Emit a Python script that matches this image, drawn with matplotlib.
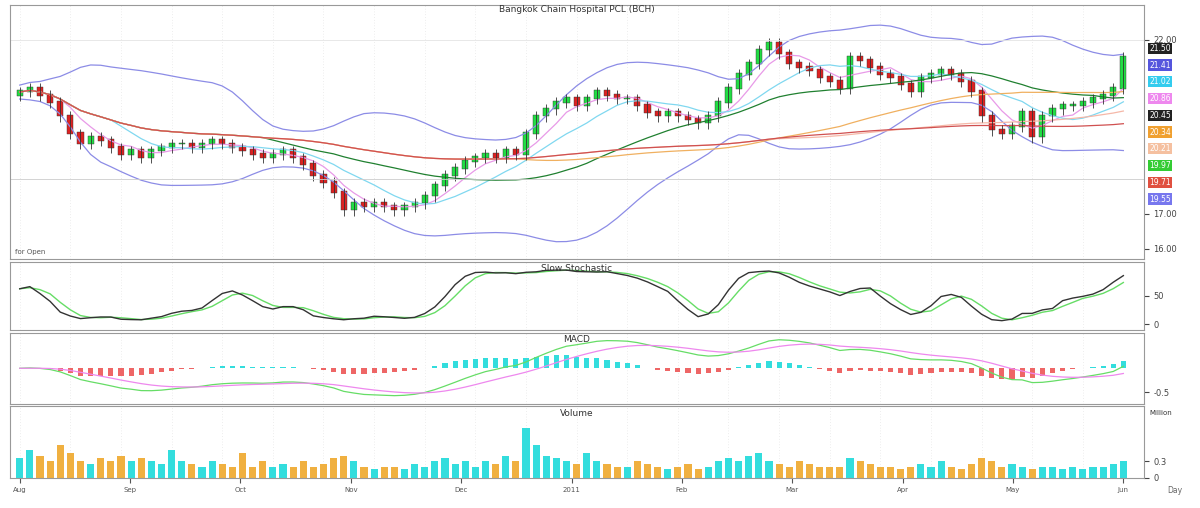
import matplotlib
matplotlib.use("Agg")
import matplotlib.pyplot as plt
import numpy as np

title = "Bangkok Chain Hospital PCL (BCH)"
closes = [20.5,20.6,20.4,20.2,19.8,19.3,19.0,19.2,19.1,18.9,
18.7,18.8,18.6,18.8,18.9,19.0,19.0,18.9,19.0,19.1,
19.0,18.9,18.8,18.7,18.6,18.7,18.8,18.6,18.4,18.1,
17.9,17.6,17.1,17.3,17.2,17.3,17.2,17.1,17.2,17.3,
17.5,17.8,18.1,18.3,18.5,18.6,18.7,18.6,18.8,18.7,
19.3,19.8,20.0,20.2,20.3,20.1,20.3,20.5,20.4,20.3,
20.3,20.1,19.9,19.8,19.9,19.8,19.7,19.6,19.8,20.2,
20.6,21.0,21.3,21.7,21.9,21.6,21.3,21.2,21.1,20.9,
20.8,20.6,21.5,21.4,21.2,21.0,20.9,20.7,20.5,20.9,
21.0,21.1,21.0,20.8,20.5,19.8,19.4,19.3,19.5,19.9,
19.2,19.8,20.0,20.1,20.1,20.2,20.3,20.4,20.6,21.5]
volumes = [0.35,0.5,0.4,0.3,0.6,0.45,0.3,0.25,0.35,0.3,
0.4,0.3,0.35,0.3,0.25,0.5,0.3,0.25,0.2,0.3,
0.25,0.2,0.45,0.2,0.3,0.2,0.25,0.2,0.3,0.2,
0.25,0.35,0.4,0.3,0.2,0.15,0.2,0.2,0.15,0.25,
0.2,0.3,0.35,0.25,0.3,0.2,0.3,0.25,0.4,0.3,
0.9,0.6,0.4,0.35,0.3,0.25,0.45,0.3,0.25,0.2,
0.2,0.3,0.25,0.2,0.15,0.2,0.25,0.15,0.2,0.3,
0.35,0.3,0.4,0.45,0.3,0.25,0.2,0.3,0.25,0.2,
0.2,0.2,0.35,0.3,0.25,0.2,0.2,0.15,0.2,0.25,
0.2,0.3,0.2,0.15,0.25,0.35,0.3,0.2,0.25,0.2,
0.15,0.2,0.2,0.15,0.2,0.15,0.2,0.2,0.25,0.3]
month_labels = ["Aug","Sep","Oct","Nov","Dec","2011","Feb","Mar","Apr","May","Jun"]
legend_vals = ["21.50","21.41","21.02","20.86","20.45","20.34","20.21","19.97","19.71","19.55"]

c = np.array(closes); n = len(c); x = np.arange(n)
o = np.r_[c[0]-0.1, c[:-1]]
hi = np.maximum(o, c) + 0.15; lo = np.minimum(o, c) - 0.15

def sma(a, w):
    out = np.full(len(a), np.nan)
    for i in range(len(a)):
        s = a[max(0, i-w+1):i+1]; out[i] = s.mean()
    return out
def ema(a, w):
    k = 2/(w+1); out = np.zeros(len(a)); out[0] = a[0]
    for i in range(1, len(a)): out[i] = a[i]*k + out[i-1]*(1-k)
    return out

fig = plt.figure(figsize=(12, 5.08), dpi=100)
axm = fig.add_axes([0.008, 0.49, 0.945, 0.50])
axs = fig.add_axes([0.008, 0.35, 0.945, 0.135])
axd = fig.add_axes([0.008, 0.205, 0.945, 0.14])
axv = fig.add_axes([0.008, 0.06, 0.945, 0.14])
for a in (axm, axs, axd, axv):
    a.set_xlim(-1, n+1)
    a.tick_params(axis="y", right=True, left=False, labelright=True, labelleft=False, labelsize=6, colors="#444")
    a.tick_params(axis="x", bottom=False, labelbottom=False)
    for xi in range(0, n, 5):
        a.axvline(xi, color="#dddddd", lw=0.5, ls=(0, (1, 3)), zorder=0)
    for s in a.spines.values(): s.set_color("#999")

bb_m = sma(c, 20); sd = np.array([c[max(0,i-19):i+1].std() for i in range(n)])
axm.plot(x, sma(bb_m+2*sd+0.2, 3), color="#8c8ce6", lw=0.9)
axm.plot(x, sma(bb_m-2*sd-0.2, 3), color="#8c8ce6", lw=0.9)
for w, col in [(5,"#e89ae8"),(10,"#80d8f0"),(25,"#208030"),(50,"#f0b060"),(75,"#f5b8a8"),(100,"#d05050")]:
    axm.plot(x, sma(c, w), color=col, lw=0.9)
cols = np.where(c >= o, "#22dd44", "#dd2222")
axm.vlines(x, lo, hi, color="#333", lw=0.6)
axm.bar(x, np.abs(c-o)+0.05, bottom=np.minimum(o,c), color=cols, width=0.6, edgecolor="#333", lw=0.3)
axm.set_ylim(15.7, 23.0)
axm.set_yticks([16, 17, 22])
axm.set_yticklabels(["16.00", "17.00", "22.00"])
axm.axhline(22.0, color="#e4e4e4", lw=0.6); axm.axhline(18.0, color="#ccc", lw=0.6)
axm.text(0.5, 1.0, title, transform=axm.transAxes, ha="center", va="top", fontsize=6.5, color="#333")
axm.text(0.005, 0.02, "for Open", transform=axm.transAxes, fontsize=5, color="#555")
box_cols = ["#222222","#5555dd","#33ccee","#ee88ee","#222222","#f0a030","#f5c0a0","#33cc33","#e05040","#7777ee"]
for i, (v, bc) in enumerate(zip(legend_vals, box_cols)):
    yy = 0.83 - i*0.066
    axm.text(1.005, yy, v, transform=axm.transAxes, fontsize=5.5, color="white",
             bbox=dict(boxstyle="square,pad=0.15", fc=bc, ec="none"), va="center")

lo14 = np.array([lo[max(0,i-13):i+1].min() for i in range(n)])
hi14 = np.array([hi[max(0,i-13):i+1].max() for i in range(n)])
k = sma(100*(c-lo14)/(hi14-lo14), 3); d = sma(k, 3)
axs.plot(x, d, color="#66dd66", lw=1); axs.plot(x, k, color="#333", lw=1)
axs.set_ylim(-10, 110); axs.set_yticks([0, 50]); axs.set_yticklabels(["0", "50"])
axs.text(0.5, 0.97, "Slow Stochastic", transform=axs.transAxes, ha="center", va="top", fontsize=6.5, color="#333")

macd = ema(c, 12) - ema(c, 26); sig = ema(macd, 9); hist = macd - sig
axd.bar(x, hist, color=np.where(hist >= 0, "#33dddd", "#ee6666"), width=0.5)
axd.plot(x, macd, color="#66dd66", lw=0.9); axd.plot(x, sig, color="#ee88ee", lw=0.9)
axd.set_ylim(-0.75, 0.75); axd.set_yticks([-0.5]); axd.set_yticklabels(["-0.5"])
axd.text(0.5, 0.97, "MACD", transform=axd.transAxes, ha="center", va="top", fontsize=6.5, color="#333")

vcol = np.where(c >= o, "#33dddd", "#f0b040")
axv.bar(x, volumes, color=vcol, width=0.7)
axv.set_ylim(0, 1.3); axv.set_yticks([0, 0.3]); axv.set_yticklabels(["0", "0.3"])
axv.text(0.5, 0.97, "Volume", transform=axv.transAxes, ha="center", va="top", fontsize=6.5, color="#333")
axv.text(1.005, 0.95, "Million", transform=axv.transAxes, fontsize=5, color="#333", va="top")

axv.tick_params(axis="x", bottom=True, labelbottom=True, labelsize=5, colors="#555")
axv.set_xticks(np.linspace(0, n-1, len(month_labels)))
axv.set_xticklabels(month_labels)
fig.text(0.985, 0.03, "Day", fontsize=5.5, color="#666", ha="right")
fig.savefig("out.png", dpi=100, facecolor="white")
